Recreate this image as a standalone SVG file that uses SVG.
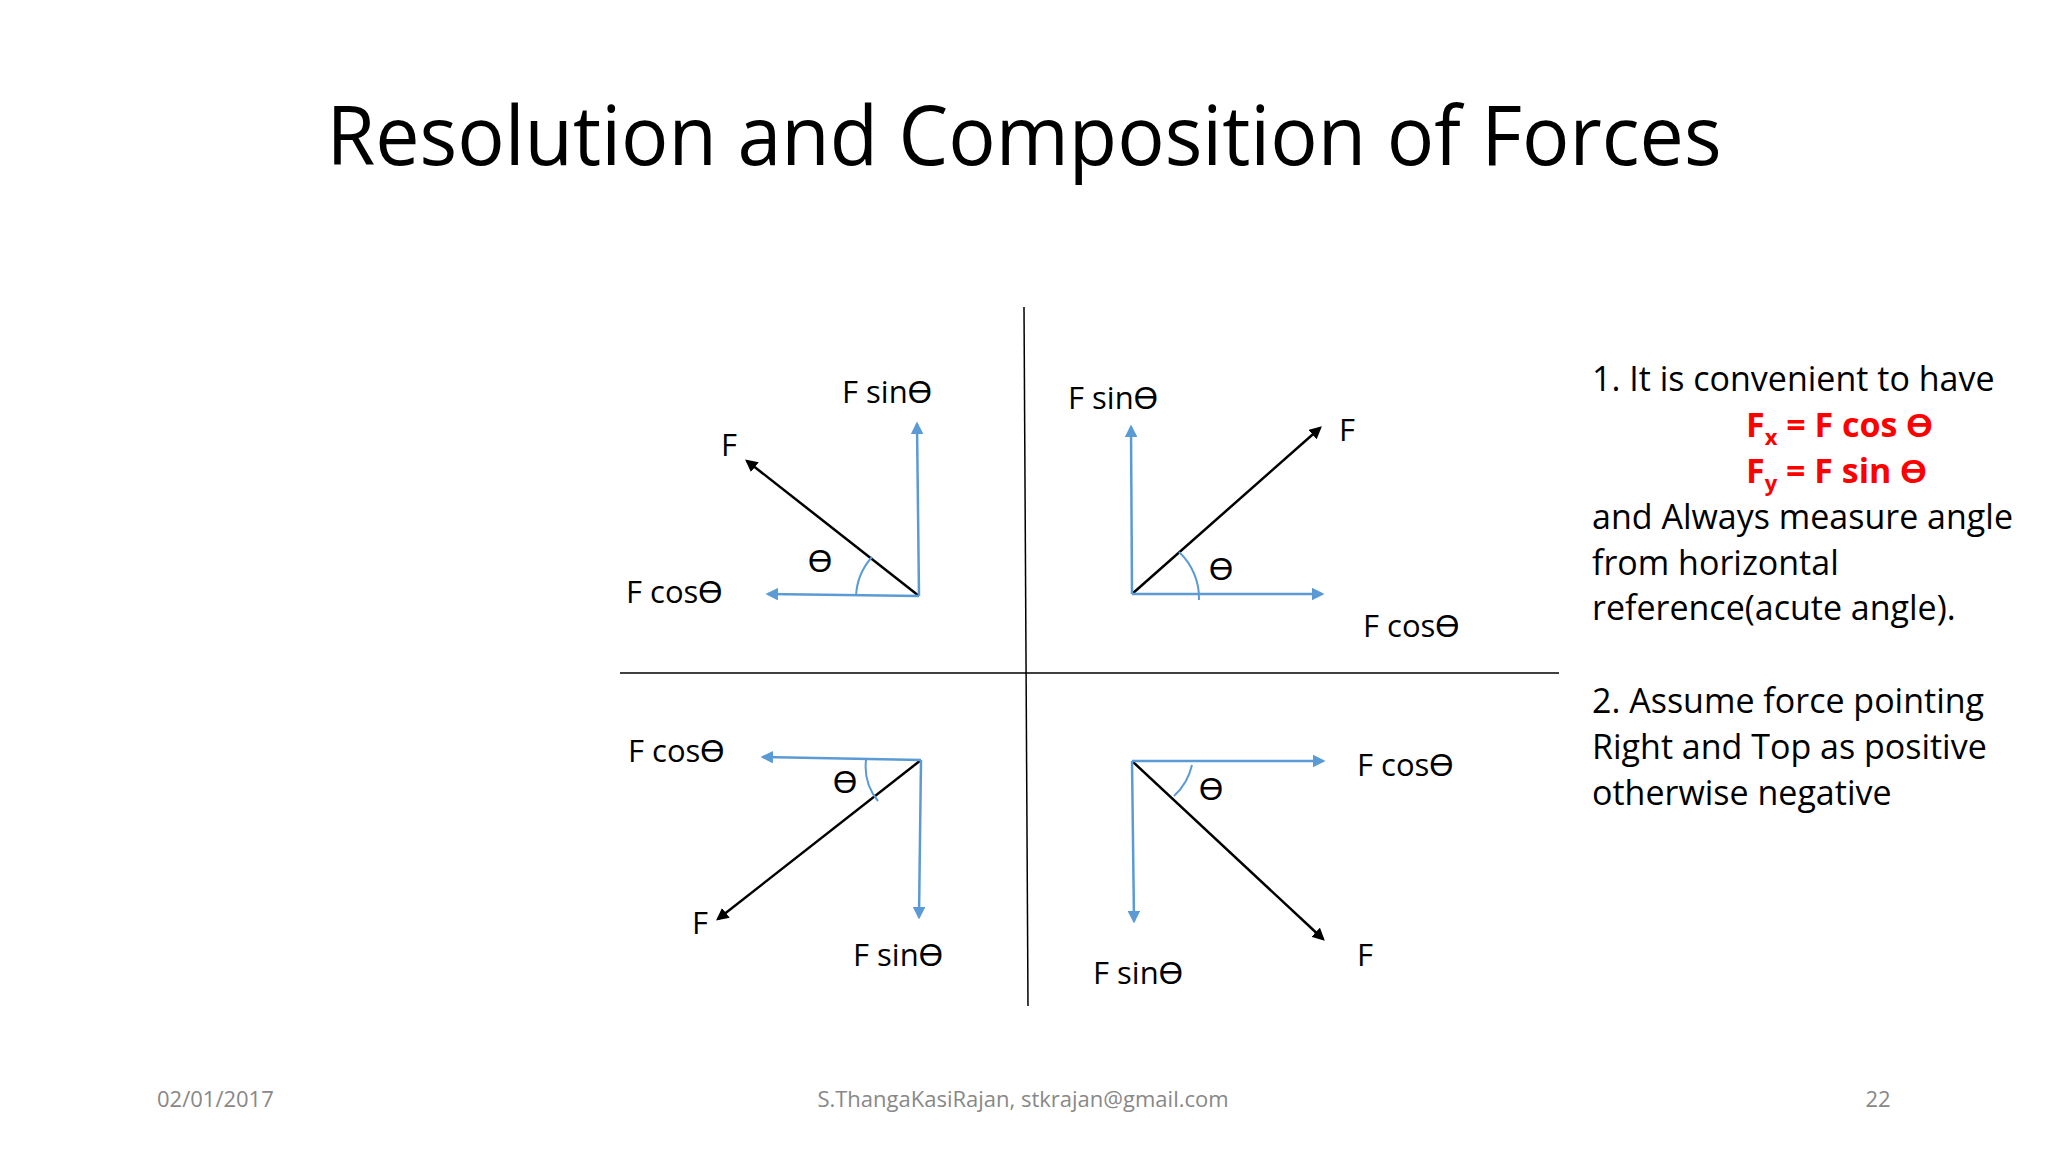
<svg xmlns="http://www.w3.org/2000/svg" width="2048" height="1152" viewBox="0 0 2048 1152">
<style>
.t{font-family:"Open Sans","Liberation Sans",sans-serif;fill:#000}
.lab{font-size:31px}
.body{font-size:34px}
.red{fill:#ff0000;font-weight:bold}
.foot{font-family:"Open Sans","Liberation Sans",sans-serif;font-size:22px;fill:#888}
.ax{stroke:#000;stroke-width:1.5;fill:none}
.b{stroke:#5b9bd5;stroke-width:2.5;fill:none;marker-end:url(#mb)}
.k{stroke:#000;stroke-width:2.5;fill:none;marker-end:url(#mk)}
.arc{stroke:#5b9bd5;stroke-width:2;fill:none}
</style>
<defs>
<marker id="mb" viewBox="0 0 10 10" refX="8" refY="5" markerWidth="5" markerHeight="5" orient="auto"><path d="M0,0L10,5L0,10z" fill="#5b9bd5"/></marker>
<marker id="mk" viewBox="0 0 10 10" refX="8" refY="5" markerWidth="5" markerHeight="5" orient="auto"><path d="M0,0L10,5L0,10z" fill="#000"/></marker>
</defs>
<rect width="2048" height="1152" fill="#fff"/>
<text x="1024" y="165" text-anchor="middle" class="t" font-size="82" textLength="1395" lengthAdjust="spacingAndGlyphs">Resolution and Composition of Forces</text>
<g id="axes">
<line class="ax" x1="1024" y1="307" x2="1028" y2="1006"/>
<line class="ax" x1="620" y1="673" x2="1559" y2="673"/>
</g>
<g id="connectors">
<line class="k" x1="919" y1="596" x2="747" y2="461"/>
<line class="b" x1="919" y1="596" x2="917" y2="424"/>
<line class="b" x1="919" y1="596" x2="768" y2="594"/>
<path class="arc" d="M856,596 A63,63 0 0 1 872,557"/>
<line class="k" x1="1132" y1="594" x2="1320" y2="428"/>
<line class="b" x1="1132" y1="594" x2="1131" y2="427"/>
<line class="b" x1="1132" y1="594" x2="1322" y2="594"/>
<path class="arc" d="M1199,600 A63,63 0 0 0 1179,552"/>
<line class="k" x1="921" y1="760" x2="718" y2="919"/>
<line class="b" x1="921" y1="760" x2="919" y2="917"/>
<line class="b" x1="921" y1="760" x2="763" y2="757"/>
<path class="arc" d="M866,760 A55,55 0 0 0 878,801"/>
<line class="k" x1="1132" y1="761" x2="1323" y2="939"/>
<line class="b" x1="1132" y1="761" x2="1134" y2="921"/>
<line class="b" x1="1132" y1="761" x2="1323" y2="761"/>
<path class="arc" d="M1192,765 A60,60 0 0 1 1174,796"/>
</g>
<g id="q1">
<text class="t lab" x="842" y="403">F sinϴ</text>
<text class="t lab" x="721" y="456">F</text>
<text class="t lab" x="808" y="572">ϴ</text>
<text class="t lab" x="626" y="603">F cosϴ</text>
</g>
<g id="q2">
<text class="t lab" x="1068" y="409">F sinϴ</text>
<text class="t lab" x="1339" y="441">F</text>
<text class="t lab" x="1209" y="580">ϴ</text>
<text class="t lab" x="1363" y="637">F cosϴ</text>
</g>
<g id="q3">
<text class="t lab" x="628" y="762">F cosϴ</text>
<text class="t lab" x="833" y="793">ϴ</text>
<text class="t lab" x="692" y="934">F</text>
<text class="t lab" x="853" y="966">F sinϴ</text>
</g>
<g id="q4">
<text class="t lab" x="1357" y="776">F cosϴ</text>
<text class="t lab" x="1199" y="800">ϴ</text>
<text class="t lab" x="1357" y="966">F</text>
<text class="t lab" x="1093" y="984">F sinϴ</text>
</g>
<g id="notes" class="t body">
<text x="1592" y="391">1. It is convenient to have</text>
<text x="1746" y="437" class="red">F<tspan font-size="22" dy="8">x</tspan><tspan dy="-8"> = F cos ϴ</tspan></text>
<text x="1746" y="483" class="red">F<tspan font-size="22" dy="8">y</tspan><tspan dy="-8"> = F sin ϴ</tspan></text>
<text x="1592" y="529">and Always measure angle</text>
<text x="1592" y="575">from horizontal</text>
<text x="1592" y="620">reference(acute angle).</text>
<text x="1592" y="713">2. Assume force pointing</text>
<text x="1592" y="759">Right and Top as positive</text>
<text x="1592" y="805">otherwise negative</text>
</g>
<g id="footer">
<text class="foot" x="157" y="1107">02/01/2017</text>
<text class="foot" x="1023" y="1107" text-anchor="middle">S.ThangaKasiRajan, stkrajan@gmail.com</text>
<text class="foot" x="1878" y="1107" text-anchor="middle">22</text>
</g>
</svg>
